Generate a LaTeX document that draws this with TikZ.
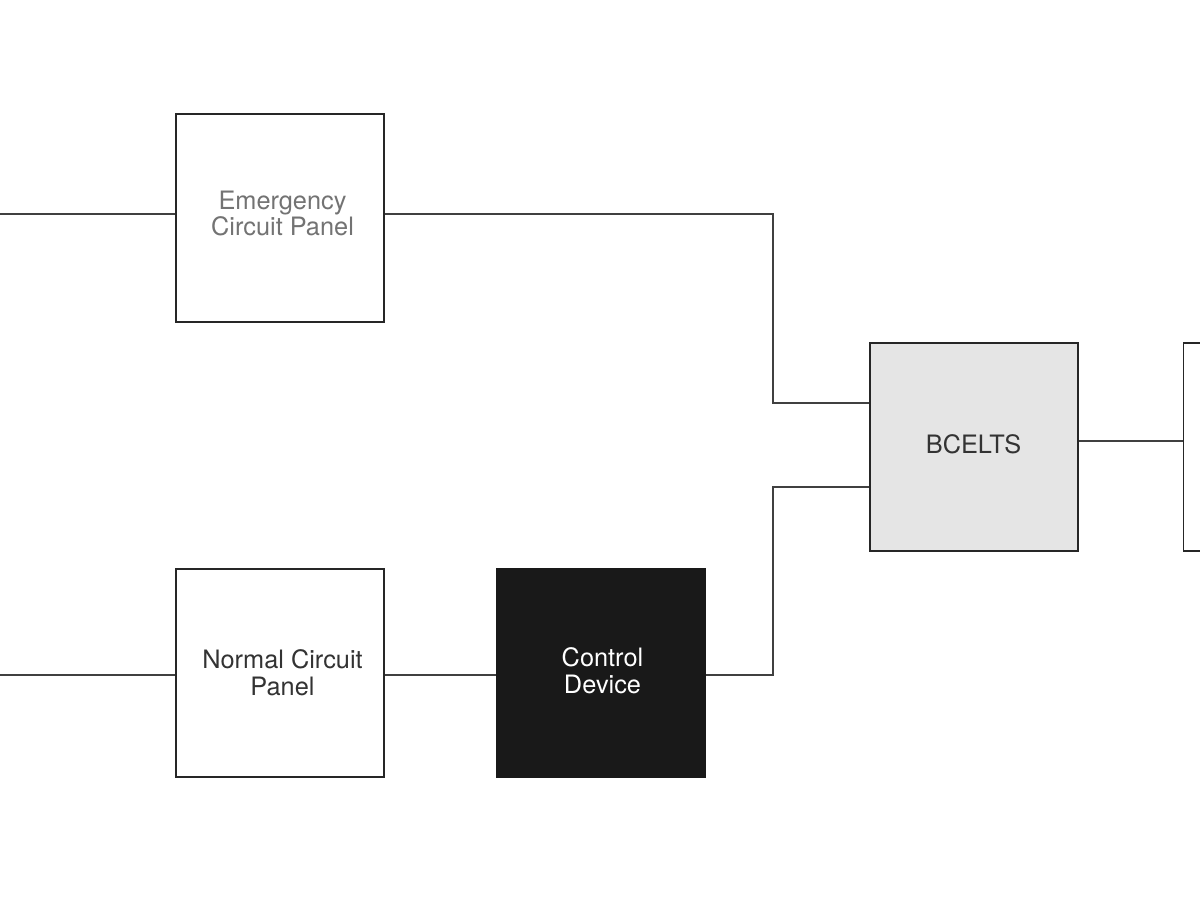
\documentclass[tikz,border=0pt]{standalone}
\usepackage{fontspec}
\setmainfont{TeX Gyre Heros}
\tikzset{
 px/.style={x=0.75pt,y=-0.75pt},
 wire/.style={draw=black!75,line width=1.3pt},
 box/.style={draw=black!85,line width=1.3pt,minimum width=156pt,minimum height=156pt,inner sep=0pt},
 boxtext/.style={inner sep=0pt,align=center,font=\fontsize{19}{20}\selectfont},
}
\begin{document}
\begin{tikzpicture}[px]
\useasboundingbox (0,0) rectangle (1200,900);
\fill[white] (0,0) rectangle (1200,900);
\node[box] (em) at (280,218) {};
\node[box] (nm) at (280,673) {};
\node[box,fill=black!90,draw=black!90] (cd) at (601,673) {};
\node[box,fill=black!10] (bc) at (974,447) {};
\node[box,anchor=west] (rt) at (1182.6,447) {};
\node[boxtext,text=black!55] (emt) at (282.5,213.5) {Emergency\\Circuit Panel};
\node[boxtext,text=black!80] (nmt) at (282.5,672.5) {Normal Circuit\\Panel};
\node[boxtext,text=white] (cdt) at (602.5,671) {Control\\Device};
\node[boxtext,text=black!80] (bct) at (973.5,444) {BCELTS};
\coordinate (l1) at (0,214);
\coordinate (l2) at (0,675);
\coordinate (j1) at (773,214);
\coordinate (j2) at (773,403);
\coordinate (j3) at (773,675);
\coordinate (j4) at (773,487);
\draw[wire] (l1) -- (em.west |- l1);
\draw[wire] (l2) -- (nm.west |- l2);
\draw[wire] (em.east |- j1) -- (j1) -- (j2) -- (bc.west |- j2);
\draw[wire] (nm.east |- j3) -- (cd.west |- j3);
\draw[wire] (cd.east |- j3) -- (j3) -- (j4) -- (bc.west |- j4);
\coordinate (j5) at (1080,441);
\draw[wire] (bc.east |- j5) -- (rt.west |- j5);
\end{tikzpicture}
\end{document}
